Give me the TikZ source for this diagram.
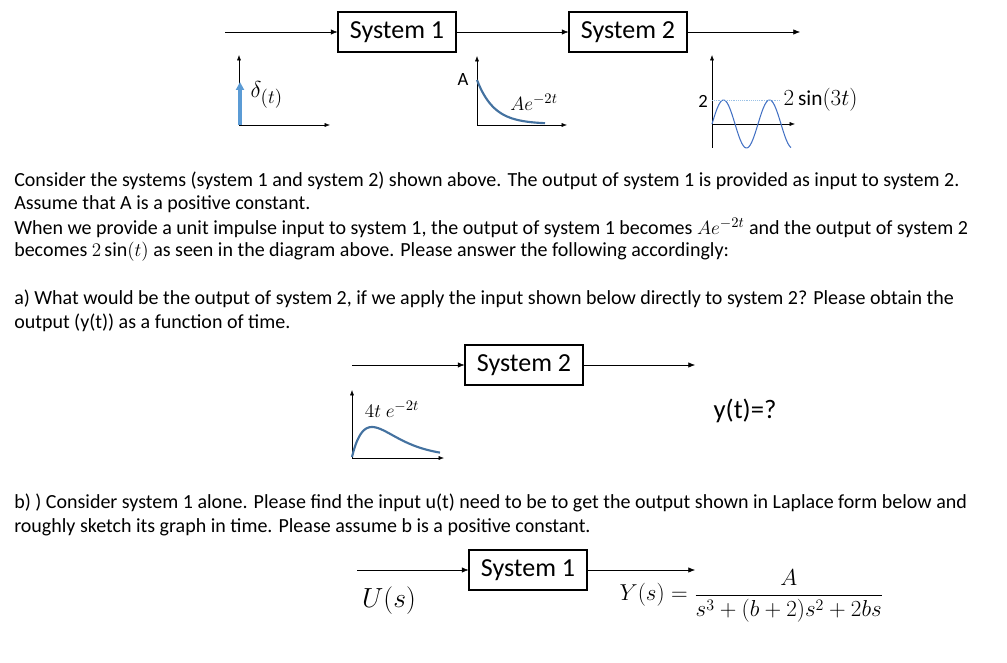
\documentclass[tikz,border=0pt]{standalone}
\usepackage{fontspec}
\setmainfont{Carlito}
\usetikzlibrary{arrows.meta}
\begin{document}
\begin{tikzpicture}[x=0.75pt,y=-0.75pt,
  sys/.style={draw,thick,minimum width=88.5pt,minimum height=30pt,font=\fontsize{19.5}{22}\selectfont,inner sep=0pt},
  sig/.style={-{Latex[length=5pt,width=4pt]}},
  ax/.style={-{Latex[length=4pt,width=3pt]},thin},
  txt/.style={anchor=west,inner sep=0pt,font=\fontsize{15}{18}\selectfont},
  crv/.style={draw={rgb,255:red,68;green,114;blue,160},line width=1.6pt}]
\useasboundingbox (0,0) rectangle (1007,663);
% top row
\node[sys] (s1) at (397,32) {System 1};
\node[sys] (s2) at (628,32) {System 2};
\coordinate (in1) at (225,32);
\coordinate (out2) at (800,32);
\draw[sig] (in1) -- (s1);
\draw[sig] (s1) -- (s2);
\draw[sig] (s2) -- (out2);
% delta plot
\draw[ax] (239,125) -- (239,55);
\draw[ax] (239,125) -- (330,125);
\draw[-{Triangle[length=6pt,width=6pt]},line width=2.5pt,draw={rgb,255:red,91;green,155;blue,213},fill={rgb,255:red,91;green,155;blue,213}] (240,125) -- (240,82);
\node[anchor=west,font=\fontsize{19}{22}\selectfont] (dl) at (246,95) {$\delta_{(t)}$};
% exp plot
\draw[ax] (477,125) -- (477,56);
\draw[ax] (477,125) -- (567,125);
\draw[crv] plot[domain=0:68,samples=40,smooth] ({477+\x},{124-44*exp(-\x/17)});
\node[font=\fontsize{14}{16}\selectfont] (A) at (463,80) {A};
\node[font=\fontsize{15.5}{18}\selectfont] (el) at (534,102) {$Ae^{-2t}$};
% sine plot
\draw[ax] (712,148) -- (712,55);
\draw[ax] (712,124) -- (795,124);
\draw[draw={rgb,255:red,68;green,114;blue,196},thick] plot[domain=0:79,samples=80,smooth] ({712+\x},{124-24*sin(\x/46*360)});
\draw[densely dotted,draw={rgb,255:red,155;green,194;blue,230}] (712,100) -- (781,100);
\node[font=\fontsize{14}{16}\selectfont] (two) at (703,101) {2};
\node[anchor=west,font=\fontsize{16}{18}\selectfont] (sl) at (779,100) {$2\sin(3t)$};
% text
\node[txt] (t1) at (14,181) {Consider the systems (system 1 and system 2) shown above. The output of system 1 is provided as input to system 2.};
\node[txt] (t2) at (14,204) {Assume that A is a positive constant.};
\node[txt] (t3) at (14,228) {When we provide a unit impulse input to system 1, the output of system 1 becomes $Ae^{-2t}$ and the output of system 2};
\node[txt] (t4) at (14,252) {becomes $2\sin(t)$ as seen in the diagram above. Please answer the following accordingly:};
\node[txt] (t5) at (14,299) {a) What would be the output of system 2, if we apply the input shown below directly to system 2? Please obtain the};
\node[txt] (t6) at (14,323) {output (y(t)) as a function of time.};
% part a
\node[sys] (s2b) at (524,365) {System 2};
\coordinate (ina) at (352,365);
\coordinate (outa) at (695,365);
\draw[sig] (ina) -- (s2b);
\draw[sig] (s2b) -- (outa);
\node[font=\fontsize{20}{22}\selectfont] (yq) at (745,411) {y(t)=?};
\draw[ax] (352,458) -- (352,390);
\draw[ax] (352,458) -- (444,458);
\draw[crv] plot[domain=0:88,samples=60,smooth] ({352+\x},{457-30*(\x/20)*exp(1-\x/20)});
\node[font=\fontsize{15.5}{18}\selectfont] (il) at (392,409) {$4t\ e^{-2t}$};
% part b
\node[txt] (t7) at (14,503) {b) ) Consider system 1 alone. Please find the input u(t) need to be to get the output shown in Laplace form below and};
\node[txt] (t8) at (14,527) {roughly sketch its graph in time. Please assume b is a positive constant.};
\node[sys] (s1b) at (528,570) {System 1};
\coordinate (inb) at (357,570);
\coordinate (outb) at (695,570);
\draw[sig] (inb) -- (s1b);
\draw[sig] (s1b) -- (outb);
\node[font=\fontsize{21}{24}\selectfont] (us) at (389,601) {$U(s)$};
\node[anchor=west,font=\fontsize{18.5}{22}\selectfont] (ys) at (615,596) {$Y(s)=\displaystyle\frac{A}{s^3+(b+2)s^2+2bs}$};
\end{tikzpicture}
\end{document}
